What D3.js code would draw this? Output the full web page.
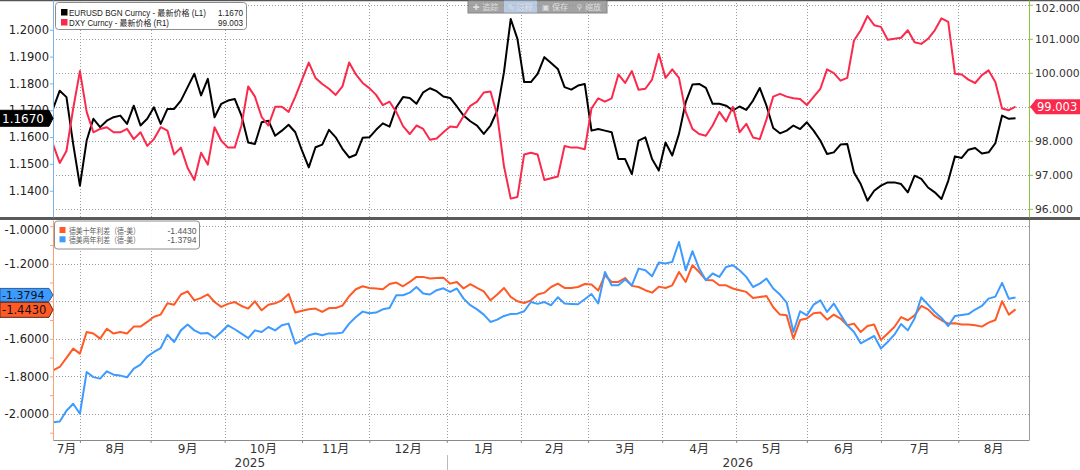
<!DOCTYPE html>
<html>
<head>
<meta charset="utf-8">
<script src="https://cdn.jsdelivr.net/npm/d3@7/dist/d3.min.js"></script>
<style>
  body { margin: 0; background: #fff; }
  svg { display: block; }
  text { font-family: "DejaVu Sans", "Noto Sans CJK SC", sans-serif; }
  text.lg { font-family: "Liberation Sans", "Noto Sans CJK SC", sans-serif; }
</style>
</head>
<body>
<script>
// business-day calendar, one point every 2 trading days
const startDate = new Date(2025, 6, 22);
const endDate = new Date(2026, 7, 31);
const sampleStep = 2;

// EURUSD (left axis, top panel)
const eurusd = [
  1.1705,1.1773,1.1749,1.1574,1.1419,1.1587,1.1668,1.1637,1.1661,1.1674,
  1.1680,1.1649,1.1717,1.1643,1.1668,1.1711,1.1649,1.1705,1.1705,1.1736,
  1.1786,1.1836,1.1755,1.1817,1.1674,1.1724,1.1736,1.1742,1.1680,1.1580,
  1.1574,1.1655,1.1661,1.1605,1.1624,1.1646,1.1618,1.1549,1.1487,1.1562,
  1.1572,1.1627,1.1599,1.1556,1.1524,1.1534,1.1597,1.1599,1.1627,1.1651,
  1.1639,1.1711,1.1749,1.1746,1.1724,1.1767,1.1782,1.1771,1.1751,1.1746,
  1.1714,1.1680,1.1659,1.1643,1.1612,1.1643,1.1699,1.1842,1.2040,1.1966,
  1.1805,1.1805,1.1836,1.1898,1.1876,1.1854,1.1786,1.1777,1.1792,1.1798,
  1.1624,1.1630,1.1624,1.1618,1.1518,1.1518,1.1462,1.1587,1.1599,1.1518,
  1.1475,1.1580,1.1531,1.1612,1.1730,1.1796,1.1798,1.1783,1.1724,1.1724,
  1.1717,1.1699,1.1714,1.1701,1.1736,1.1783,1.1717,1.1634,1.1614,1.1624,
  1.1643,1.1630,1.1655,1.1624,1.1587,1.1537,1.1543,1.1572,1.1574,1.1468,
  1.1425,1.1363,1.1400,1.1419,1.1431,1.1431,1.1425,1.1394,1.1456,1.1444,
  1.1412,1.1394,1.1369,1.1437,1.1528,1.1522,1.1553,1.1559,1.1539,1.1543,
  1.1577,1.1680,1.1668,1.1670
];

// DXY (right axis, top panel)
const dxy = [
  97.90,97.35,97.70,98.95,100.05,98.85,98.25,98.35,98.40,98.25,
  98.25,98.35,98.05,98.25,97.85,98.05,98.40,98.30,97.60,97.80,
  97.20,96.85,97.65,97.30,98.40,98.00,97.80,97.80,98.45,99.60,
  99.30,98.70,98.45,99.00,99.00,98.85,99.30,99.80,100.30,99.85,
  99.67,99.53,99.35,99.60,100.30,99.95,99.70,99.55,99.35,99.05,
  99.15,98.85,98.43,98.20,98.45,98.35,98.03,98.07,98.25,98.42,
  98.40,98.73,99.03,99.15,99.42,99.45,98.75,97.25,96.30,96.35,
  97.60,97.65,97.60,96.85,96.90,96.95,97.85,97.80,97.80,97.75,
  98.95,99.25,99.15,99.25,99.95,99.70,100.05,99.50,99.53,99.80,
  100.55,99.85,100.10,99.85,98.85,98.35,98.20,98.15,98.45,98.85,
  98.57,99.00,98.25,98.50,98.10,98.05,98.63,99.30,99.38,99.30,
  99.25,99.23,99.05,99.29,99.53,100.10,99.99,99.77,99.85,100.95,
  101.25,101.67,101.40,101.35,100.97,101.00,101.03,101.25,100.90,100.85,
  101.00,101.25,101.60,101.50,99.97,99.95,99.80,99.70,99.93,100.07,
  99.73,98.95,98.90,99.003
];

// 德美十年利差 (bottom panel)
const spread10y = [
  -1.768,-1.750,-1.702,-1.652,-1.679,-1.564,-1.572,-1.599,-1.546,-1.572,
  -1.564,-1.572,-1.535,-1.535,-1.510,-1.482,-1.471,-1.411,-1.418,-1.364,
  -1.347,-1.395,-1.382,-1.363,-1.404,-1.430,-1.414,-1.404,-1.425,-1.439,
  -1.400,-1.448,-1.418,-1.411,-1.395,-1.361,-1.460,-1.450,-1.443,-1.439,
  -1.457,-1.436,-1.436,-1.423,-1.373,-1.336,-1.320,-1.329,-1.332,-1.336,
  -1.308,-1.300,-1.320,-1.297,-1.270,-1.270,-1.279,-1.276,-1.274,-1.306,
  -1.297,-1.332,-1.309,-1.329,-1.347,-1.395,-1.364,-1.329,-1.377,-1.400,
  -1.409,-1.395,-1.364,-1.354,-1.324,-1.306,-1.329,-1.329,-1.324,-1.308,
  -1.311,-1.343,-1.261,-1.297,-1.297,-1.276,-1.318,-1.324,-1.341,-1.354,
  -1.322,-1.329,-1.315,-1.244,-1.297,-1.208,-1.244,-1.286,-1.288,-1.315,
  -1.315,-1.332,-1.341,-1.350,-1.382,-1.377,-1.372,-1.432,-1.471,-1.475,
  -1.599,-1.500,-1.492,-1.464,-1.460,-1.498,-1.471,-1.492,-1.528,-1.519,
  -1.564,-1.532,-1.524,-1.606,-1.572,-1.537,-1.484,-1.501,-1.475,-1.425,
  -1.443,-1.478,-1.501,-1.519,-1.517,-1.524,-1.524,-1.528,-1.535,-1.514,
  -1.500,-1.400,-1.471,-1.4430
];

// 德美两年利差 (bottom panel)
const spread2y = [
  -2.044,-2.040,-1.983,-1.946,-1.999,-1.777,-1.804,-1.812,-1.773,-1.791,
  -1.796,-1.805,-1.759,-1.738,-1.695,-1.670,-1.649,-1.578,-1.617,-1.555,
  -1.524,-1.555,-1.572,-1.569,-1.596,-1.564,-1.528,-1.549,-1.572,-1.596,
  -1.555,-1.564,-1.537,-1.555,-1.528,-1.519,-1.626,-1.608,-1.581,-1.572,
  -1.581,-1.571,-1.572,-1.567,-1.519,-1.484,-1.455,-1.464,-1.460,-1.443,
  -1.436,-1.368,-1.368,-1.354,-1.324,-1.359,-1.364,-1.341,-1.331,-1.350,
  -1.332,-1.386,-1.421,-1.443,-1.471,-1.510,-1.498,-1.478,-1.468,-1.466,
  -1.453,-1.404,-1.414,-1.404,-1.421,-1.379,-1.412,-1.414,-1.416,-1.389,
  -1.361,-1.412,-1.244,-1.315,-1.315,-1.284,-1.315,-1.226,-1.235,-1.267,
  -1.194,-1.199,-1.190,-1.084,-1.235,-1.133,-1.226,-1.288,-1.252,-1.270,
  -1.217,-1.208,-1.235,-1.270,-1.324,-1.306,-1.279,-1.332,-1.364,-1.407,
  -1.564,-1.453,-1.475,-1.418,-1.395,-1.457,-1.412,-1.471,-1.528,-1.564,
  -1.624,-1.604,-1.585,-1.652,-1.617,-1.578,-1.521,-1.555,-1.492,-1.379,
  -1.418,-1.457,-1.489,-1.532,-1.478,-1.473,-1.468,-1.444,-1.425,-1.386,
  -1.375,-1.302,-1.386,-1.3794
];

// tick labels (labels hidden behind the last-value tags are left out)
const eurTicks = [1.14, 1.15, 1.16, 1.17, 1.18, 1.19, 1.20];
const dxyTicks = [96, 97, 98, 99, 100, 101, 102];
const dxyHidden = [99];
const spreadTicks = [-2.0, -1.8, -1.6, -1.4, -1.2, -1.0];
const spreadHidden = [-1.4];
const spreadMinor = [-2.1, -1.9, -1.7, -1.5, -1.3, -1.1];

const topNames = ["EURUSD BGN Curncy - 最新价格 (L1)", "DXY Curncy - 最新价格 (R1)"];
const bottomNames = ["德美十年利差（德-美）", "德美两年利差（德-美）"];
const toolbarItems = ["✚ 追踪", "✎ 注释", "▣ 保存", "⚲ 缩放"];

// ---------- set up ----------
const W = 1080, H = 470;
const L = 53, R = 1029;

const bdays = [];
for (let d = new Date(startDate); d <= endDate; d.setDate(d.getDate() + 1)) {
  const w = d.getDay();
  if (w !== 0 && w !== 6) bdays.push(new Date(d));
}

const x = d3.scaleLinear().domain([0, bdays.length]).range([L, R]);
const yEur = d3.scaleLinear().domain([1.1302, 1.2111]).range([217, 0]);
const yDxy = d3.scaleLinear().domain([95.76, 102.14]).range([217, 0]);
const ySpr = d3.scaleLinear().domain([-2.139, -0.967]).range([440, 220]);

const svg = d3.select("body").append("svg").attr("width", W).attr("height", H);

const defs = svg.append("defs");
defs.append("clipPath").attr("id", "clipTop")
  .append("rect").attr("x", L).attr("y", 0).attr("width", R - L).attr("height", 217);
defs.append("clipPath").attr("id", "clipBot")
  .append("rect").attr("x", L).attr("y", 220).attr("width", R - L).attr("height", 220);

// month boundaries from the calendar
const monthStarts = [];
bdays.forEach((d, k) => {
  if (k > 0 && d.getMonth() !== bdays[k - 1].getMonth()) monthStarts.push(k);
});
const bounds = [0, ...monthStarts, bdays.length];
const monthSegs = d3.range(bounds.length - 1).map(j => ({
  a: bounds[j], b: bounds[j + 1], label: (bdays[bounds[j]].getMonth() + 1) + "月"
}));
const yearStart = monthStarts.find(k => bdays[k].getMonth() === 0);

// ---------- gridlines ----------
const grid = svg.append("g")
  .attr("stroke", "#9c9c9c").attr("stroke-width", 1).attr("stroke-dasharray", "1,2");

grid.selectAll(".hTop").data(dxyTicks).join("line")
  .attr("x1", L).attr("x2", R)
  .attr("y1", d => Math.round(yDxy(d)) + 0.5).attr("y2", d => Math.round(yDxy(d)) + 0.5);
grid.selectAll(".hBot").data(spreadTicks).join("line")
  .attr("x1", L).attr("x2", R)
  .attr("y1", d => Math.round(ySpr(d)) + 0.5).attr("y2", d => Math.round(ySpr(d)) + 0.5);
grid.selectAll(".vTop").data(monthStarts).join("line")
  .attr("x1", d => Math.round(x(d)) + 0.5).attr("x2", d => Math.round(x(d)) + 0.5)
  .attr("y1", 0).attr("y2", 217);
grid.selectAll(".vBot").data(monthStarts).join("line")
  .attr("x1", d => Math.round(x(d)) + 0.5).attr("x2", d => Math.round(x(d)) + 0.5)
  .attr("y1", 221).attr("y2", 440);

// ---------- series ----------
const lineOf = ys => d3.line().x((d, i) => x(i * sampleStep)).y(d => ys(d));

const gTop = svg.append("g").attr("clip-path", "url(#clipTop)");
gTop.append("path").datum(eurusd).attr("d", lineOf(yEur))
  .attr("fill", "none").attr("stroke", "#000").attr("stroke-width", 2).attr("stroke-linejoin", "round");
gTop.append("path").datum(dxy).attr("d", lineOf(yDxy))
  .attr("fill", "none").attr("stroke", "#fb2a4c").attr("stroke-width", 2).attr("stroke-linejoin", "round");

const gBot = svg.append("g").attr("clip-path", "url(#clipBot)");
gBot.append("path").datum(spread10y).attr("d", lineOf(ySpr))
  .attr("fill", "none").attr("stroke", "#ff5a26").attr("stroke-width", 2).attr("stroke-linejoin", "round");
gBot.append("path").datum(spread2y).attr("d", lineOf(ySpr))
  .attr("fill", "none").attr("stroke", "#3d9bff").attr("stroke-width", 2).attr("stroke-linejoin", "round");

// ---------- frame ----------
svg.append("line").attr("x1", 0).attr("x2", W).attr("y1", 0.5).attr("y2", 0.5)
  .attr("stroke", "#555").attr("stroke-width", 1.5);
svg.append("line").attr("x1", 0).attr("x2", W).attr("y1", 218.5).attr("y2", 218.5)
  .attr("stroke", "#5a5a5a").attr("stroke-width", 3);

// ---------- axes ----------
function styleAxis(g, color, textColor, size) {
  g.select(".domain").attr("stroke", color);
  g.selectAll(".tick line").attr("stroke", color);
  g.selectAll(".tick text").attr("fill", textColor)
    .style("font-family", '"DejaVu Sans", sans-serif').style("font-size", size + "px");
}

const axEur = svg.append("g").attr("transform", `translate(${L},0)`)
  .call(d3.axisLeft(yEur).tickValues(eurTicks).tickFormat(d3.format(".4f"))
    .tickSize(3).tickPadding(1).tickSizeOuter(0));
styleAxis(axEur, "#7fb0e6", "#222", 11.5);

const axDxy = svg.append("g").attr("transform", `translate(${R},0)`)
  .call(d3.axisRight(yDxy).tickValues(dxyTicks)
    .tickFormat(d => dxyHidden.includes(d) ? "" : d3.format(".3f")(d))
    .tickSize(4).tickPadding(2).tickSizeOuter(0));
styleAxis(axDxy, "#8cc63f", "#333", 10.8);
axDxy.selectAll(".tick text").attr("y", function (d) { return Math.max(0, 8.5 - yDxy(d)); });

const axSpr = svg.append("g").attr("transform", `translate(${L},0)`)
  .call(d3.axisLeft(ySpr).tickValues(spreadTicks.concat(spreadMinor))
    .tickFormat(d => spreadTicks.includes(d) && !spreadHidden.includes(d)
      ? d3.format(".4f")(d).replace("−", "-") : "")
    .tickSize(3).tickPadding(1).tickSizeOuter(0));
styleAxis(axSpr, "#f6a07c", "#222", 11.5);
axSpr.selectAll(".tick text").attr("y", function (d) { return Math.max(0, 230 - ySpr(d)); });

svg.append("line").attr("x1", R + 0.5).attr("x2", R + 0.5).attr("y1", 220).attr("y2", 440)
  .attr("stroke", "#9a9a9a");

const axX = svg.append("g").attr("transform", "translate(0,440)")
  .call(d3.axisBottom(x).tickValues(monthStarts).tickFormat("").tickSize(3).tickSizeOuter(0));
axX.select(".domain").attr("stroke", "#8a8a8a");
axX.selectAll(".tick line").attr("stroke", "#8a8a8a");

svg.append("g").selectAll("text").data(monthSegs).join("text")
  .attr("x", d => (x(d.a) + x(d.b)) / 2).attr("y", 452.5)
  .attr("text-anchor", "middle").attr("font-size", 12).attr("fill", "#333")
  .text(d => d.label);

const years = [
  { a: 0, b: yearStart, label: String(bdays[0].getFullYear()) },
  { a: yearStart, b: bdays.length, label: String(bdays[yearStart].getFullYear()) }
];
svg.append("g").selectAll("text").data(years).join("text")
  .attr("x", d => (x(d.a) + x(d.b)) / 2).attr("y", 467)
  .attr("text-anchor", "middle").attr("font-size", 12).attr("fill", "#333")
  .text(d => d.label);
svg.append("line").attr("x1", Math.round(x(yearStart)) + 0.5).attr("x2", Math.round(x(yearStart)) + 0.5)
  .attr("y1", 455).attr("y2", 470).attr("stroke", "#bbb");

// ---------- last-value tags ----------
function leftTag(yc, h, fill, stroke, txt, txtColor, fs) {
  const y0 = yc - h / 2, y1 = yc + h / 2;
  svg.append("path")
    .attr("d", `M0,${y0}H${L - 4}L${L},${yc}L${L - 4},${y1}H0Z`)
    .attr("fill", fill).attr("stroke", stroke).attr("stroke-width", 1);
  svg.append("text").attr("x", 2).attr("y", yc + fs * 0.36)
    .attr("font-size", fs).attr("fill", txtColor).text(txt);
}
function rightTag(yc, h, fill, txt) {
  const y0 = yc - h / 2, y1 = yc + h / 2;
  svg.append("path")
    .attr("d", `M${R + 1},${yc}L${R + 7},${y0}H${W}V${y1}H${R + 7}Z`)
    .attr("fill", fill);
  svg.append("text").attr("x", R + 8).attr("y", yc + 4.2)
    .attr("font-size", 11.5).attr("fill", "#fff").text(txt);
}
const last = a => a[a.length - 1];
const fmtNeg = v => d3.format(".4f")(v).replace("−", "-");
leftTag(yEur(last(eurusd)), 16, "#000", "#000", d3.format(".4f")(last(eurusd)), "#fff", 12);
rightTag(yDxy(last(dxy)), 15, "#fb2a4c", d3.format(".3f")(last(dxy)));
leftTag(ySpr(last(spread2y)) - 2.5, 13, "#3d9bff", "#2a5f9a", fmtNeg(last(spread2y)), "#111", 11);
leftTag(ySpr(last(spread10y)) + 0.5, 15, "#ff5a26", "#5a2a1a", fmtNeg(last(spread10y)), "#111", 11.5);

// ---------- legends ----------
const topLegend = [
  { name: topNames[0], color: "#000", value: d3.format(".4f")(last(eurusd)), w: 137 },
  { name: topNames[1], color: "#fb2a4c", value: d3.format(".3f")(last(dxy)), w: 100 }
];
const lgT = svg.append("g");
lgT.append("rect").attr("x", 55.5).attr("y", 2.5).attr("width", 191).attr("height", 27).attr("rx", 3)
  .attr("fill", "rgba(255,255,255,0.93)").attr("stroke", "#8c8c8c");
topLegend.forEach((d, i) => {
  const by = 15.5 + i * 10;
  lgT.append("rect").attr("x", 61).attr("y", by - 6.5).attr("width", 6.5).attr("height", 6.5).attr("fill", d.color);
  lgT.append("text").attr("class", "lg").attr("x", 69).attr("y", by).attr("font-size", 8.5).attr("fill", "#222")
    .attr("textLength", d.w).attr("lengthAdjust", "spacingAndGlyphs").text(d.name);
  lgT.append("text").attr("class", "lg").attr("x", 243).attr("y", by).attr("font-size", 9).attr("fill", "#222")
    .attr("text-anchor", "end").attr("textLength", 25).attr("lengthAdjust", "spacingAndGlyphs")
    .text(d.value);
});

const botLegend = [
  { name: bottomNames[0], color: "#ff5a26", value: fmtNeg(last(spread10y)) },
  { name: bottomNames[1], color: "#3d9bff", value: fmtNeg(last(spread2y)) }
];
const lgB = svg.append("g");
lgB.append("rect").attr("x", 54.5).attr("y", 221).attr("width", 145).attr("height", 28).attr("rx", 3)
  .attr("fill", "rgba(255,255,255,0.93)").attr("stroke", "#8c8c8c");
botLegend.forEach((d, i) => {
  const by = 234 + i * 9.3;
  lgB.append("rect").attr("x", 59.5).attr("y", by - 7).attr("width", 6).attr("height", 6).attr("fill", d.color);
  lgB.append("text").attr("class", "lg").attr("x", 69).attr("y", by).attr("font-size", 8.5).attr("fill", "#666")
    .attr("textLength", 71).attr("lengthAdjust", "spacingAndGlyphs").text(d.name);
  lgB.append("text").attr("class", "lg").attr("x", 196.5).attr("y", by).attr("font-size", 8.5).attr("fill", "#555")
    .attr("text-anchor", "end").attr("textLength", 29).attr("lengthAdjust", "spacingAndGlyphs").text(d.value);
});

// ---------- toolbar overlay ----------
const tb = svg.append("g").attr("opacity", 0.8);
tb.append("rect").attr("x", 468).attr("y", 0).attr("width", 139).attr("height", 13)
  .attr("fill", "#8d8d8d").attr("stroke", "#666");
tb.append("rect").attr("x", 504).attr("y", 0.5).attr("width", 33).attr("height", 12).attr("fill", "#a7bfdc");
tb.selectAll("text").data(toolbarItems).join("text")
  .attr("x", (d, i) => 473 + i * 34.5).attr("y", 10)
  .attr("font-size", 8).attr("fill", "#d8d8d8").text(d => d);
</script>
</body>
</html>
